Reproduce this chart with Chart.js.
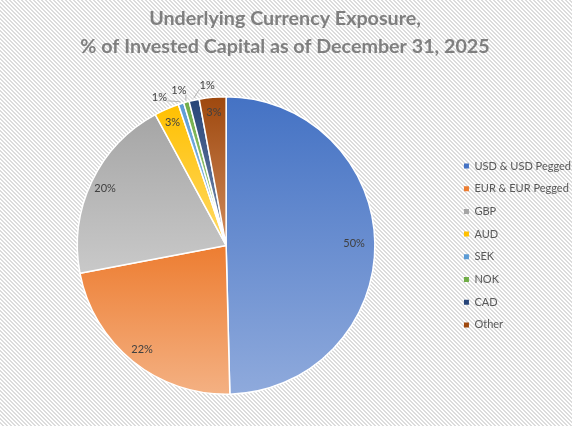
<!DOCTYPE html>
<html><head><meta charset="utf-8">
<script src="https://cdn.jsdelivr.net/npm/chart.js@4"></script>
<style>
html,body{margin:0;padding:0;}
body{width:572px;height:426px;overflow:hidden;background:#fff repeating-linear-gradient(45deg,#ffffff 0px,#ffffff 1.6px,#dcdcdc 1.6px,#dcdcdc 2.83px);}
canvas{display:block;}
</style></head><body>
<canvas id="c" width="572" height="426"></canvas>
<script>
const categories = ['USD & USD Pegged','EUR & EUR Pegged','GBP','AUD','SEK','NOK','CAD','Other'];
const values = [49.6, 22.4, 20.1, 2.7, 0.6, 0.6, 1.1, 2.9];
const baseColors = ['#4472C4','#ED7D31','#A5A5A5','#FFC000','#5B9BD5','#70AD47','#264478','#9E480E'];
const lightColors = ['#8FAADC','#F4B183','#C9C9C9','#FFD966','#9DC3E6','#A9D18E','#7D8FAE','#D08B5B'];
const titleLines = ['Underlying Currency Exposure,', '% of Invested Capital as of December 31, 2025'];

// label placement for small slices (offsets from slice edge point)
const outsidePlacement = {4:{dx:-21,dy:-4,lx:-13,ly:-1}, 5:{dx:-7,dy:-9.5,lx:0,ly:-5.5}, 6:{dx:13.5,dy:-12.5,lx:5.5,ly:-8.5}};
const insideRatio = {0:0.86};
const defaultInsideRatio = 0.9;

function sliceGradient(ctx){
  const chart = ctx.chart, area = chart.chartArea, i = ctx.dataIndex;
  if (!area || i === undefined) return baseColors[i||0];
  const total = values.reduce((a,b)=>a+b,0);
  let s = 0; for (let k=0;k<i;k++) s += values[k];
  const a0 = s/total*2*Math.PI, a1 = (s+values[i])/total*2*Math.PI;
  const cx = (area.left+area.right)/2, cy = (area.top+area.bottom)/2;
  const r = Math.min(area.width, area.height)/2;
  const ys = [cy, cy - r*Math.cos(a0), cy - r*Math.cos(a1)];
  if (a0 <= 1e-9 || a1 >= 2*Math.PI-1e-9) ys.push(cy - r);
  if (a0 <= Math.PI && a1 >= Math.PI) ys.push(cy + r);
  const y0 = Math.min(...ys), y1 = Math.max(...ys);
  const g = chart.ctx.createLinearGradient(0, y0, 0, Math.max(y1, y0+1));
  g.addColorStop(0, baseColors[i]);
  g.addColorStop(1, lightColors[i]);
  return g;
}

const labelPlugin = {
  id:'sliceLabels',
  afterDatasetsDraw(chart){
    const meta = chart.getDatasetMeta(0), c = chart.ctx;
    c.save();
    c.font = '11px Lato'; c.fillStyle = '#404040'; c.textAlign = 'center'; c.textBaseline = 'middle';
    meta.data.forEach((arc,i)=>{
      const p = arc.getProps(['x','y','startAngle','endAngle','outerRadius'], true);
      const mid = (p.startAngle+p.endAngle)/2;
      const txt = Math.round(values[i]) + '%';
      const o = outsidePlacement[i];
      if (!o){
        const rr = p.outerRadius*(insideRatio[i] || defaultInsideRatio);
        c.fillText(txt, p.x + rr*Math.cos(mid), p.y + rr*Math.sin(mid));
      } else {
        const ex = p.x + (p.outerRadius+2)*Math.cos(mid), ey = p.y + (p.outerRadius+2)*Math.sin(mid);
        c.fillText(txt, ex+o.dx, ey+o.dy);
        c.beginPath(); c.moveTo(ex+o.lx, ey+o.ly); c.lineTo(ex, ey);
        c.strokeStyle = '#A6A6A6'; c.lineWidth = 0.8; c.stroke();
      }
    });
    c.restore();
  }
};

function draw(){
  new Chart(document.getElementById('c'), {
    type:'pie',
    data:{labels:categories, datasets:[{data:values, backgroundColor:sliceGradient, borderColor:'#ffffff', borderWidth:1.5}]},
    options:{
      responsive:false, animation:false, events:[],
      layout:{padding:{left:-11,right:-9,top:0,bottom:31}},
      plugins:{
        tooltip:{enabled:false},
        title:{display:true, text:titleLines, color:'#7F7F7F', font:{family:'Lato', size:19.7, weight:'bold', lineHeight:1.42}, padding:{top:5,bottom:35}},
        legend:{position:'right', fullSize:false, align:'center', labels:{boxWidth:5, boxHeight:5, padding:11.7, color:'#595959', font:{family:'Lato', size:11},
          generateLabels:(chart)=>categories.map((t,i)=>({text:t, fillStyle:baseColors[i], strokeStyle:baseColors[i], lineWidth:0, hidden:false, index:i, fontColor:'#595959'}))}}
      }
    },
    plugins:[labelPlugin]
  });
}
Promise.all([document.fonts.load('11px Lato'), document.fonts.load('bold 18px Lato')]).then(draw, draw);
</script>
</body></html>
